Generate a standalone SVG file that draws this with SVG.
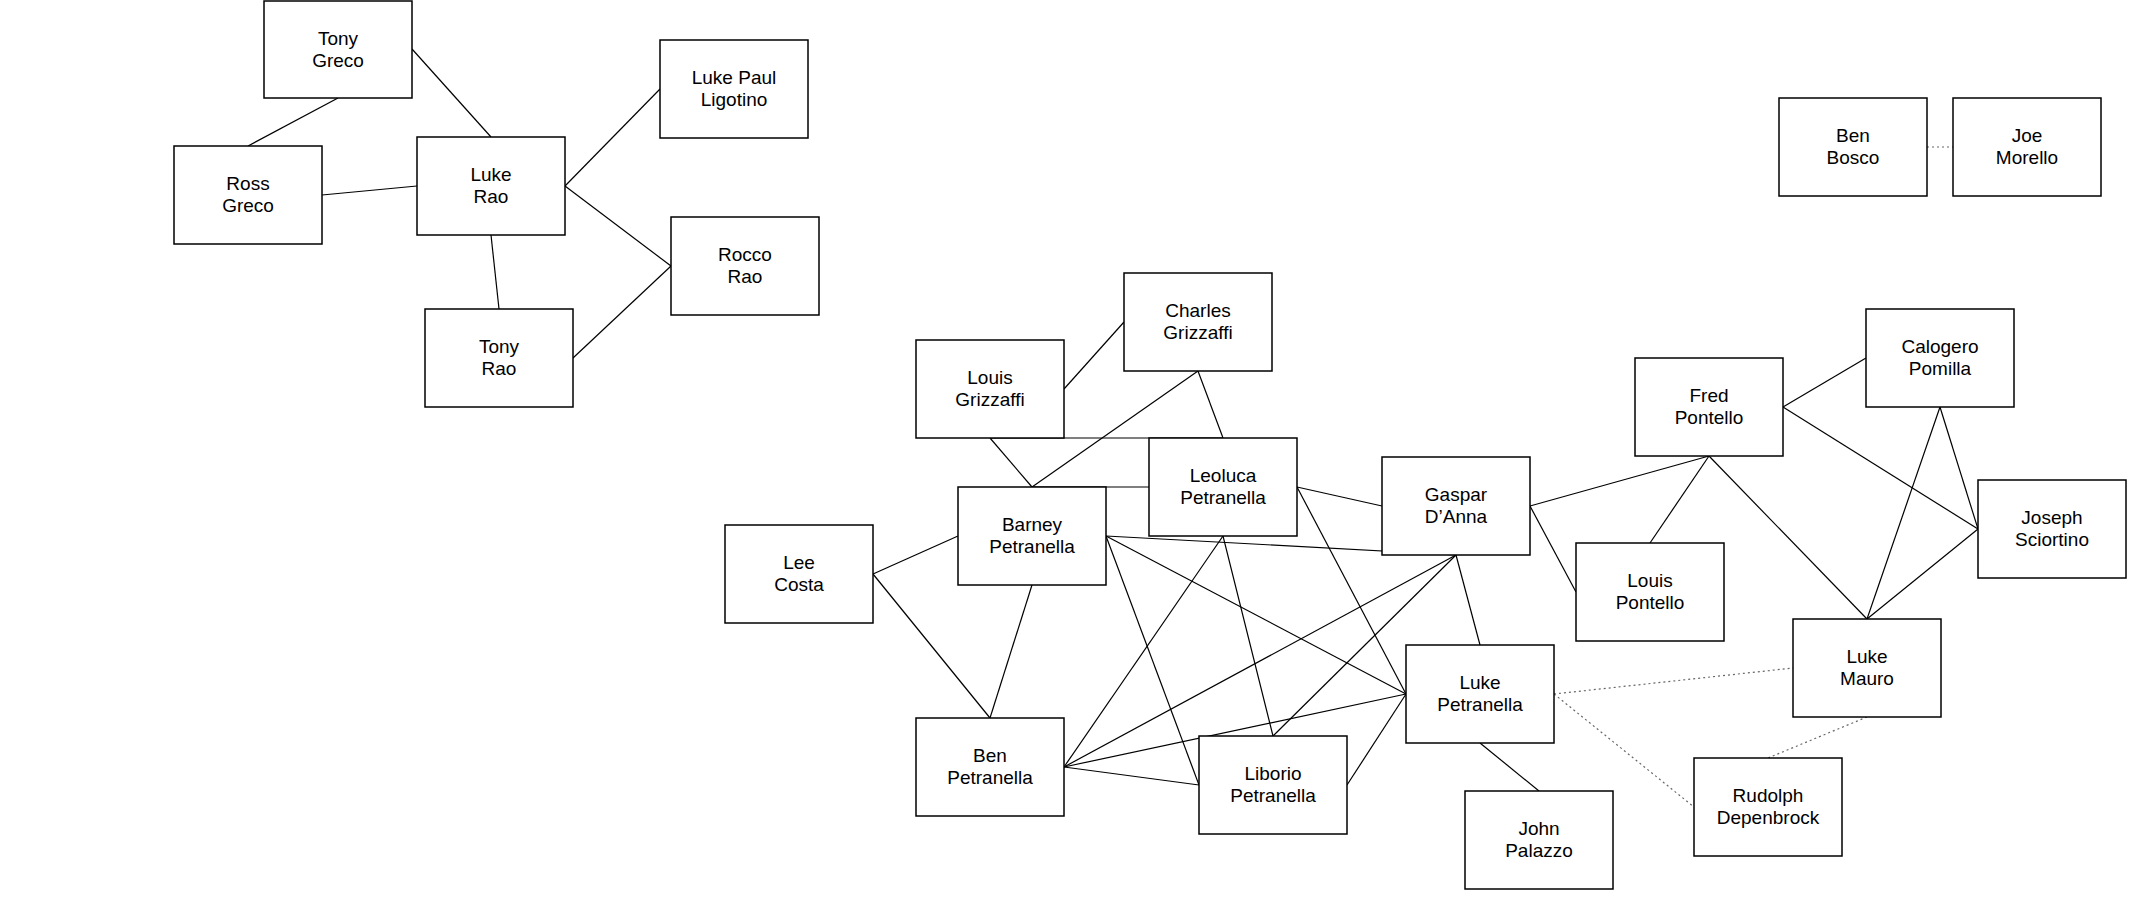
<svg xmlns="http://www.w3.org/2000/svg" width="2140" height="920" viewBox="0 0 2140 920">
<style>
.n rect{fill:#fff;stroke:#000;stroke-width:1.5}
.n text{font-family:"Liberation Sans",Arial,sans-serif;font-size:19px;text-anchor:middle;fill:#000}
.e line{stroke:#000;stroke-width:1.2}
.e line.d{stroke:#666;stroke-dasharray:2 3}
</style>
<rect width="2140" height="920" fill="#fff"/>
<g class="e">
<line x1="338" y1="98" x2="248" y2="146"/>
<line x1="412" y1="49" x2="491" y2="137"/>
<line x1="322" y1="195" x2="417" y2="186"/>
<line x1="565" y1="186" x2="660" y2="89"/>
<line x1="565" y1="186" x2="671" y2="266"/>
<line x1="491" y1="235" x2="499" y2="309"/>
<line x1="573" y1="358" x2="671" y2="266"/>
<line x1="1064" y1="389" x2="1124" y2="322"/>
<line x1="990" y1="438" x2="1032" y2="487"/>
<line x1="1198" y1="371" x2="1032" y2="487"/>
<line x1="1198" y1="371" x2="1223" y2="438"/>
<line x1="990" y1="438" x2="1223" y2="438"/>
<line x1="1032" y1="487" x2="1149" y2="487"/>
<line x1="1297" y1="487" x2="1382" y2="506"/>
<line x1="1297" y1="487" x2="1406" y2="694"/>
<line x1="1223" y1="536" x2="1064" y2="767"/>
<line x1="1223" y1="536" x2="1273" y2="736"/>
<line x1="958" y1="536" x2="873" y2="574"/>
<line x1="873" y1="574" x2="990" y2="718"/>
<line x1="1032" y1="585" x2="990" y2="718"/>
<line x1="1106" y1="536" x2="1456" y2="555"/>
<line x1="1106" y1="536" x2="1406" y2="694"/>
<line x1="1106" y1="536" x2="1199" y2="785"/>
<line x1="1456" y1="555" x2="1064" y2="767"/>
<line x1="1456" y1="555" x2="1273" y2="736"/>
<line x1="1456" y1="555" x2="1480" y2="645"/>
<line x1="1530" y1="506" x2="1709" y2="456"/>
<line x1="1530" y1="506" x2="1576" y2="592"/>
<line x1="1064" y1="767" x2="1406" y2="694"/>
<line x1="1064" y1="767" x2="1199" y2="785"/>
<line x1="1347" y1="785" x2="1406" y2="694"/>
<line x1="1480" y1="743" x2="1539" y2="791"/>
<line class="d" x1="1554" y1="694" x2="1793" y2="668"/>
<line class="d" x1="1554" y1="694" x2="1694" y2="807"/>
<line class="d" x1="1867" y1="717" x2="1768" y2="758"/>
<line x1="1709" y1="456" x2="1650" y2="543"/>
<line x1="1709" y1="456" x2="1867" y2="619"/>
<line x1="1783" y1="407" x2="1866" y2="358"/>
<line x1="1783" y1="407" x2="1978" y2="529"/>
<line x1="1940" y1="407" x2="1867" y2="619"/>
<line x1="1940" y1="407" x2="1978" y2="529"/>
<line x1="1978" y1="529" x2="1867" y2="619"/>
<line class="d" x1="1927" y1="147" x2="1953" y2="147"/>
</g>
<g id="tony-greco" class="n"><rect x="264" y="1" width="148" height="97"/><text x="338" y="45">Tony</text><text x="338" y="67">Greco</text></g>
<g id="ross-greco" class="n"><rect x="174" y="146" width="148" height="98"/><text x="248" y="190">Ross</text><text x="248" y="212">Greco</text></g>
<g id="luke-rao" class="n"><rect x="417" y="137" width="148" height="98"/><text x="491" y="181">Luke</text><text x="491" y="203">Rao</text></g>
<g id="luke-paul-ligotino" class="n"><rect x="660" y="40" width="148" height="98"/><text x="734" y="84">Luke Paul</text><text x="734" y="106">Ligotino</text></g>
<g id="rocco-rao" class="n"><rect x="671" y="217" width="148" height="98"/><text x="745" y="261">Rocco</text><text x="745" y="283">Rao</text></g>
<g id="tony-rao" class="n"><rect x="425" y="309" width="148" height="98"/><text x="499" y="353">Tony</text><text x="499" y="375">Rao</text></g>
<g id="louis-grizzaffi" class="n"><rect x="916" y="340" width="148" height="98"/><text x="990" y="384">Louis</text><text x="990" y="406">Grizzaffi</text></g>
<g id="charles-grizzaffi" class="n"><rect x="1124" y="273" width="148" height="98"/><text x="1198" y="317">Charles</text><text x="1198" y="339">Grizzaffi</text></g>
<g id="leoluca-petranella" class="n"><rect x="1149" y="438" width="148" height="98"/><text x="1223" y="482">Leoluca</text><text x="1223" y="504">Petranella</text></g>
<g id="barney-petranella" class="n"><rect x="958" y="487" width="148" height="98"/><text x="1032" y="531">Barney</text><text x="1032" y="553">Petranella</text></g>
<g id="lee-costa" class="n"><rect x="725" y="525" width="148" height="98"/><text x="799" y="569">Lee</text><text x="799" y="591">Costa</text></g>
<g id="ben-petranella" class="n"><rect x="916" y="718" width="148" height="98"/><text x="990" y="762">Ben</text><text x="990" y="784">Petranella</text></g>
<g id="liborio-petranella" class="n"><rect x="1199" y="736" width="148" height="98"/><text x="1273" y="780">Liborio</text><text x="1273" y="802">Petranella</text></g>
<g id="gaspar-danna" class="n"><rect x="1382" y="457" width="148" height="98"/><text x="1456" y="501">Gaspar</text><text x="1456" y="523">D’Anna</text></g>
<g id="luke-petranella" class="n"><rect x="1406" y="645" width="148" height="98"/><text x="1480" y="689">Luke</text><text x="1480" y="711">Petranella</text></g>
<g id="john-palazzo" class="n"><rect x="1465" y="791" width="148" height="98"/><text x="1539" y="835">John</text><text x="1539" y="857">Palazzo</text></g>
<g id="louis-pontello" class="n"><rect x="1576" y="543" width="148" height="98"/><text x="1650" y="587">Louis</text><text x="1650" y="609">Pontello</text></g>
<g id="fred-pontello" class="n"><rect x="1635" y="358" width="148" height="98"/><text x="1709" y="402">Fred</text><text x="1709" y="424">Pontello</text></g>
<g id="calogero-pomilla" class="n"><rect x="1866" y="309" width="148" height="98"/><text x="1940" y="353">Calogero</text><text x="1940" y="375">Pomilla</text></g>
<g id="joseph-sciortino" class="n"><rect x="1978" y="480" width="148" height="98"/><text x="2052" y="524">Joseph</text><text x="2052" y="546">Sciortino</text></g>
<g id="luke-mauro" class="n"><rect x="1793" y="619" width="148" height="98"/><text x="1867" y="663">Luke</text><text x="1867" y="685">Mauro</text></g>
<g id="rudolph-depenbrock" class="n"><rect x="1694" y="758" width="148" height="98"/><text x="1768" y="802">Rudolph</text><text x="1768" y="824">Depenbrock</text></g>
<g id="ben-bosco" class="n"><rect x="1779" y="98" width="148" height="98"/><text x="1853" y="142">Ben</text><text x="1853" y="164">Bosco</text></g>
<g id="joe-morello" class="n"><rect x="1953" y="98" width="148" height="98"/><text x="2027" y="142">Joe</text><text x="2027" y="164">Morello</text></g>
</svg>
